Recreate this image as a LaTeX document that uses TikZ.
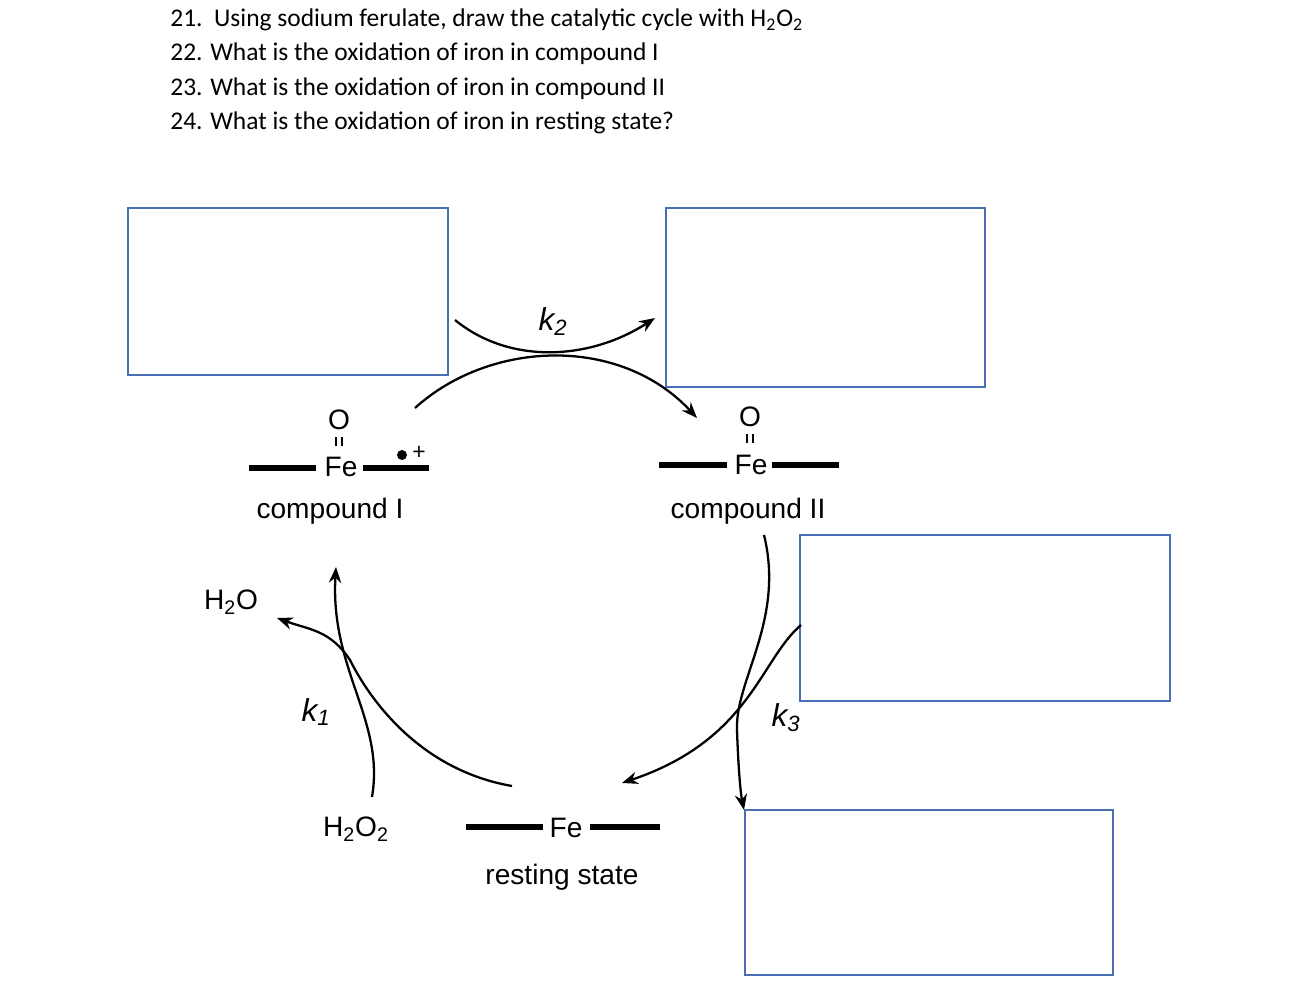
\documentclass[tikz,border=0pt]{standalone}
\usepackage{fontspec}
\setmainfont{Liberation Sans}
\newfontfamily\hdr{Carlito}
\usetikzlibrary{arrows.meta}
\definecolor{boxc}{HTML}{4A6FB5}
\begin{document}
\begin{tikzpicture}[x=0.02cm,y=-0.02cm,
  hd/.style={anchor=west,font=\hdr\fontsize{14.5}{16}\selectfont,inner sep=0},
  lab/.style={font=\fontsize{16}{18}\selectfont,inner sep=0},
  box/.style={draw=boxc,line width=0.8pt},
  bar/.style={line width=3.6pt},
  arr/.style={line width=1.3pt,-{Stealth[length=9pt,width=7pt]}},
  ln/.style={line width=1.3pt}]
\useasboundingbox (0,0) rectangle (1316,990);
\node[hd] (q1) at (170,20) {21.\ \ Using sodium ferulate, draw the catalytic cycle with H\textsubscript{2}O\textsubscript{2}};
\node[hd] (q2) at (170,54) {22. What is the oxidation of iron in compound I};
\node[hd] (q3) at (170,89) {23. What is the oxidation of iron in compound II};
\node[hd] (q4) at (170,123) {24. What is the oxidation of iron in resting state?};
% boxes
\draw[box] (128,208) rectangle (448,375);
\draw[box] (666,208) rectangle (985,387);
\draw[box] (800,535) rectangle (1170,701);
\draw[box] (745,810) rectangle (1113,975);
% compound I
\node[lab] (fe1) at (341,467) {Fe};
\node[lab] (o1) at (339,420) {O};
\draw[line width=1pt] (336,437)--(336,446) (342,437)--(342,446);
\draw[bar] (249,468)--(316,468) (363,468)--(429,468);
\fill (402,455) circle (5);
\node[lab,font=\fontsize{13}{14}\selectfont] (plus) at (419,453) {+};
\node[lab] (c1) at (330,511) {compound I};
% compound II
\node[lab] (fe2) at (751,465) {Fe};
\node[lab] (o2) at (750,417) {O};
\draw[line width=1pt] (747,434)--(747,443) (753,434)--(753,443);
\draw[bar] (659,465)--(727,465) (772,465)--(839,465);
\node[lab] (c2) at (748,511) {compound II};
% resting state
\node[lab] (fe3) at (566,828) {Fe};
\draw[bar] (466,827)--(543,827) (590,827)--(660,827);
\node[lab] (rs) at (562,877) {resting state};
% other labels
\node[lab] (h2o) at (231,602) {H\textsubscript{2}O};
\node[lab] (h2o2) at (356,829) {H\textsubscript{2}O\textsubscript{2}};
\node[lab,font=\itshape\fontsize{18}{20}\selectfont] (k1) at (316,712) {k\textsubscript{1}};
\node[lab,font=\itshape\fontsize{18}{20}\selectfont] (k2) at (553,322) {k\textsubscript{2}};
\node[lab,font=\itshape\fontsize{18}{20}\selectfont] (k3) at (786,718) {k\textsubscript{3}};
% k2 arcs
\coordinate (a1s) at (455,320); \coordinate (a1e) at (655,318);
\draw[arr] (a1s) .. controls (510,365) and (590,360) .. (a1e);
\coordinate (a2s) at (415,408); \coordinate (a2e) at (697,418);
\draw[arr] (a2s) .. controls (490,340) and (620,335) .. (a2e);
% k1 arcs
\coordinate (b1s) at (372,797); \coordinate (b1e) at (336,567);
\draw[arr] (b1s) .. controls (385,720) and (330,670) .. (b1e);
\coordinate (c1s) at (512,786); \coordinate (c1e) at (277,618);
\draw[arr] (c1s) .. controls (420,770) and (370,700) .. (350,660) .. controls (330,630) and (310,630) .. (c1e);
% k3 arcs
\coordinate (d1s) at (764,535); \coordinate (d1e) at (744,810);
\draw[arr] (d1s) .. controls (785,620) and (735,680) .. (737,730) .. controls (738,760) and (740,790) .. (d1e);
\coordinate (e1s) at (801,625); \coordinate (e1e) at (622,783);
\draw[arr] (e1s) .. controls (760,660) and (750,740) .. (e1e);
\end{tikzpicture}
\end{document}
